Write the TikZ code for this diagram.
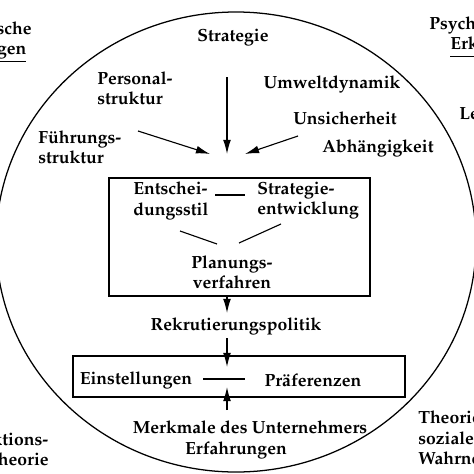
\documentclass[tikz,border=0pt]{standalone}
\usepackage[T1]{fontenc}
\usepackage{mathpazo}
\usetikzlibrary{arrows.meta}

\begin{document}
\begin{tikzpicture}[x=0.025cm, y=-0.025cm]
		\tikzstyle{Label} = [font=\fontsize{12.5}{14.5}\selectfont\bfseries, inner sep=0pt]
		\tikzstyle{Box} = [rectangle, draw=black, line width=1.1pt]
		\tikzstyle{arrow} = [line width=0.8pt, -{Latex[length=10pt, width=5.5pt]}]
		\tikzstyle{Line} = [line width=0.8pt]
		
		\useasboundingbox (0,0) rectangle (474,474);
		\clip (0,0) rectangle (474,474);
		\draw [line width=0.9pt] (236,242) ellipse [x radius=240, y radius=230];
		
		% outer theories, cut by the frame
		\node (soz) [Label, align=center, anchor=east] at (32,42) {Soziologische\\\underline{Erkl\"arungen}};
		\node (psy) [Label, align=left, anchor=west] at (429,37) {Psychologische\\\hspace*{15pt}\underline{Erkl\"arungen}};
		\node (lern) [Label, anchor=west] at (459,113) {Lerntheorie};
		\node (trans) [Label, align=center, anchor=east] at (49,449) {Transaktions-\\kostentheorie};
		\node (wahr) [Label, align=left, anchor=west] at (418,440) {Theorie der\\sozialen\\Wahrnehmung};
		
		% influences
		\node (strat) [Label] at (233,38) {Strategie};
		\node (pers) [Label, align=left, anchor=west] at (97,88.5) {Personal-\\struktur};
		\node (fuehr) [Label, align=left, anchor=west] at (38,147) {F\"uhrungs-\\struktur};
		\node (umw) [Label] at (332,84) {Umweltdynamik};
		\node (unsi) [Label] at (345,118) {Unsicherheit};
		\node (abh) [Label] at (378,148) {Abh\"angigkeit};
		
		\coordinate (pL) at (138,131);
		\coordinate (pM) at (227,77);
		\coordinate (pR) at (298,136);
		\coordinate (qL) at (210,154);
		\coordinate (qM) at (227,154);
		\coordinate (qR) at (245,154);
		\draw [arrow] (pL) -- (qL);
		\draw [arrow] (pM) -- (qM);
		\draw [arrow] (pR) -- (qR);
		
		% planning box
		\node (box1) [Box, minimum width=6.525cm, minimum height=2.95cm] at (239.5,237) {};
		\node (ents) [Label, align=left, anchor=west] at (133,201) {Entschei-\\dungsstil};
		\node (sent) [Label, align=left, anchor=west] at (257,200.5) {Strategie-\\entwicklung};
		\node (plan) [Label, align=center] at (232,272) {Planungs-\\verfahren};
		\coordinate (e1) at (215,195);
		\coordinate (e2) at (245,195);
		\coordinate (v1) at (180,231);
		\coordinate (v2) at (217,244);
		\coordinate (v3) at (281,224);
		\coordinate (v4) at (239,243);
		\draw [Line] (e1) -- (e2);
		\draw [Line] (v1) -- (v2);
		\draw [Line] (v3) -- (v4);
		
		\node (rek) [Label] at (236,326) {Rekrutierungspolitik};
		\coordinate (r1) at (227,313);
		\coordinate (r2) at (227,338);
		\coordinate (r3) at (227,367);
		\draw [arrow] (box1.south -| r1) -- (r1);
		\draw [arrow] (r2) -- (r3);
		
		% attitudes box
		\node (box2) [Box, minimum width=8.3cm, minimum height=1.025cm] at (239,376.5) {};
		\node (einst) [Label] at (136,380) {Einstellungen};
		\node (praef) [Label] at (313,380) {Pr\"aferenzen};
		\coordinate (s1) at (203,379);
		\coordinate (s2) at (245,379);
		\draw [Line] (s1) -- (s2);
		
		\node (merk) [Label] at (250,427) {Merkmale des Unternehmers};
		\node (erf) [Label] at (236,450) {Erfahrungen};
		\coordinate (m1) at (227,410);
		\coordinate (m2) at (227,387);
		\draw [arrow] (m1) -- (m2);
\end{tikzpicture}
\end{document}
